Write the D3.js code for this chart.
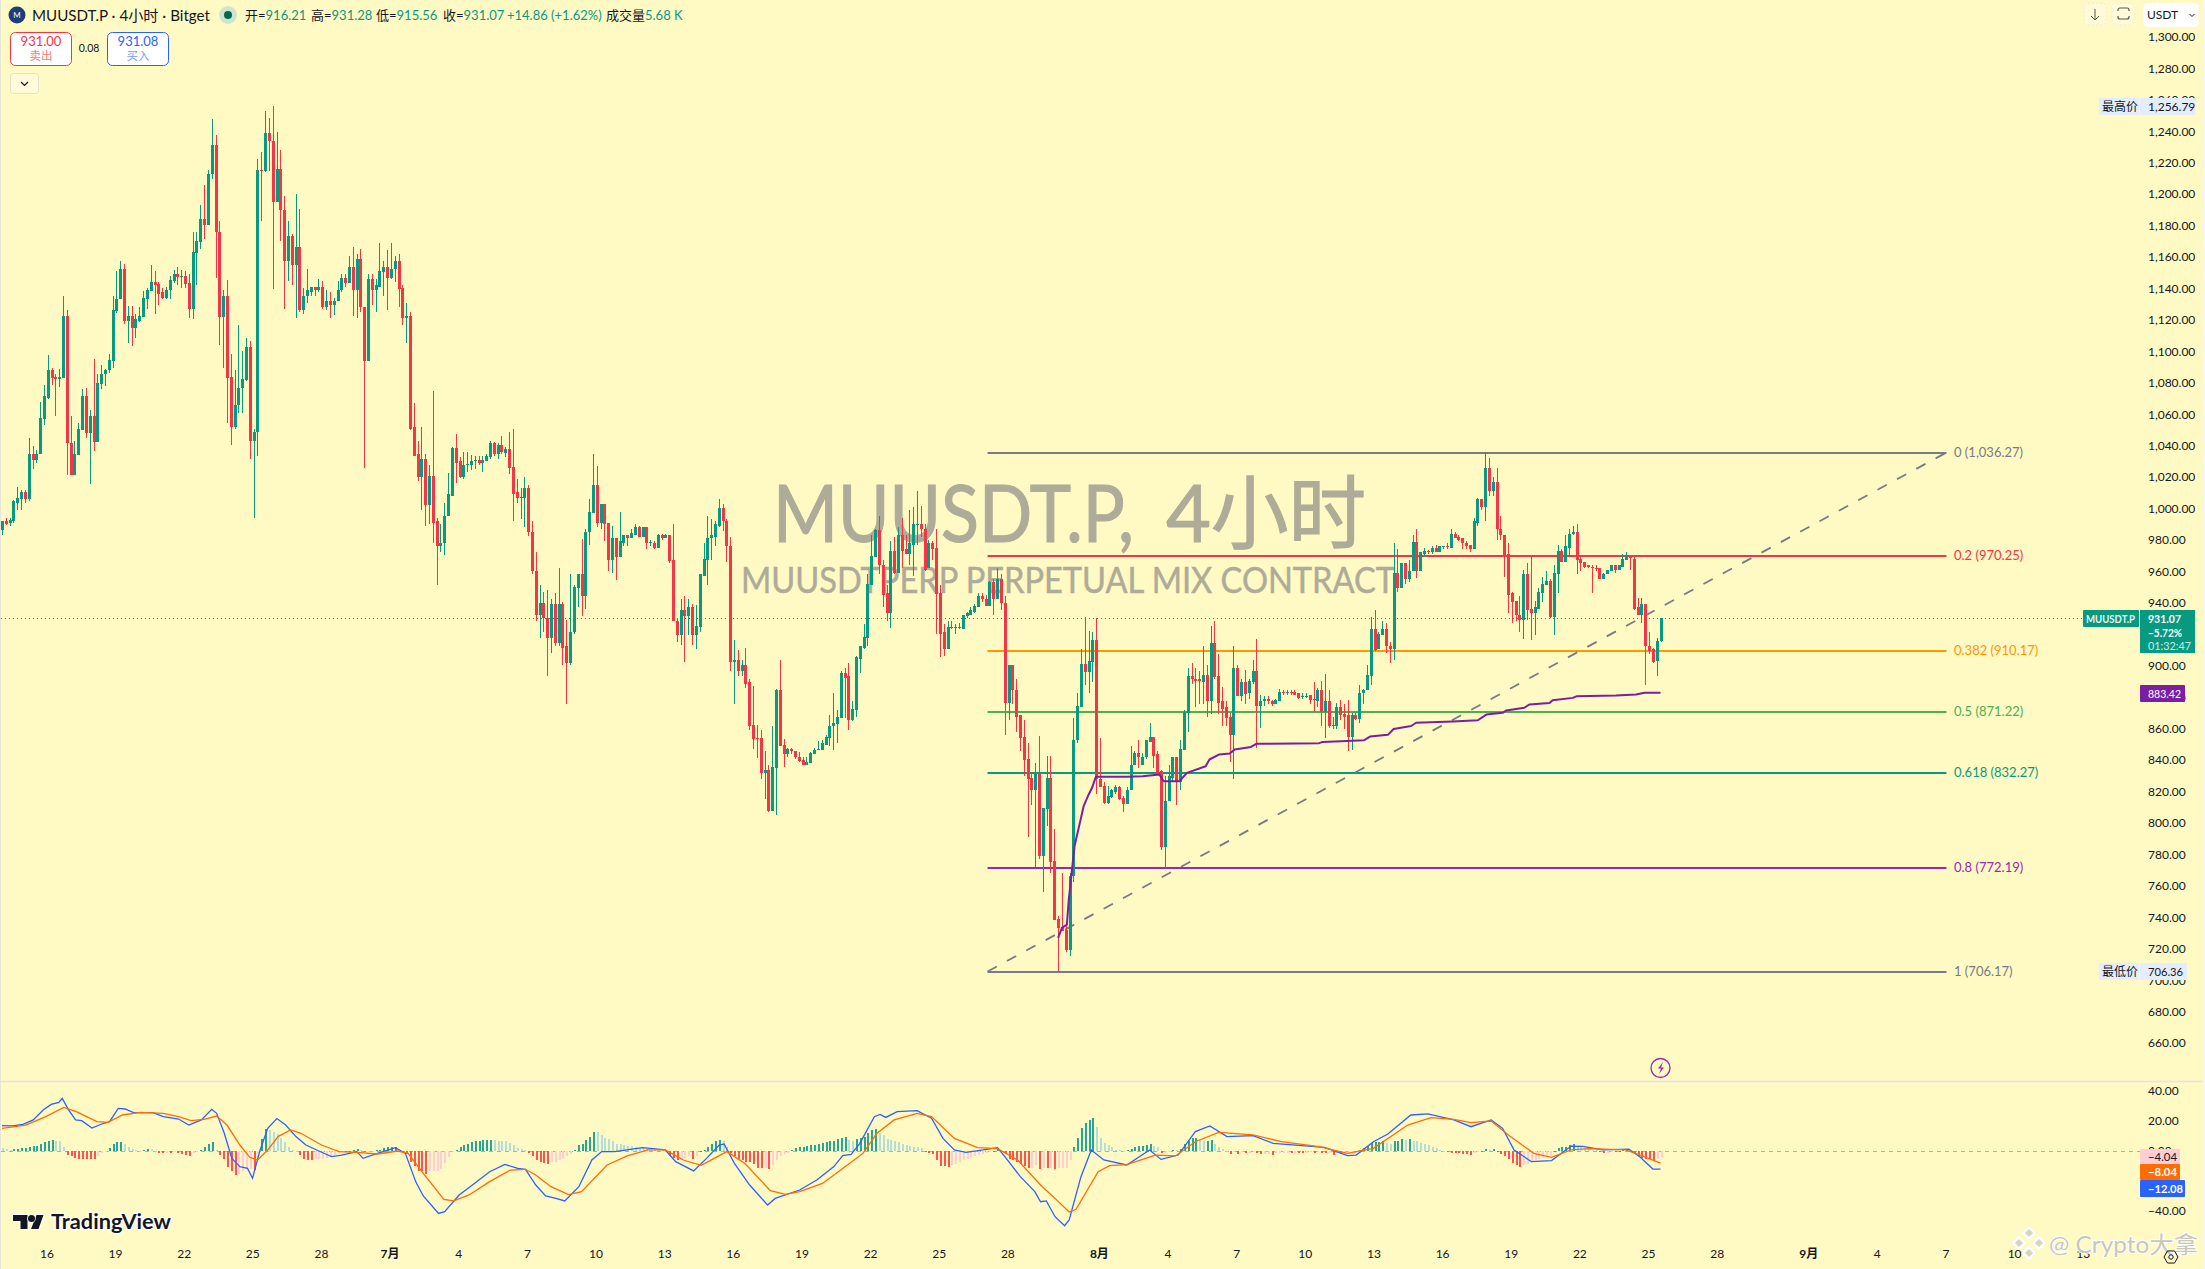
<!DOCTYPE html>
<html><head><meta charset="utf-8"><title>MUUSDT.P</title>
<script src="https://cdn.jsdelivr.net/npm/d3@7"></script>
<style>html,body{margin:0;padding:0;background:#FFF9C4;overflow:hidden}svg{display:block}text{font-family:Lato,"Noto Sans CJK SC",sans-serif}</style>
</head><body><div id="c"></div><script>
const opens=[986.7,992.7,991.4,992.4,1004.4,1007.0,1011.4,1007,1035.5,1031.4,
1035.3,1057.4,1071.1,1089,1084.6,1083.1,1083.9,1122.8,1042,1021.8,
1034.5,1050.4,1072.4,1048.5,1059.7,1042.8,1079.7,1086.2,1088.5,1094.2,
1126.2,1133.7,1153.2,1119.7,1122.8,1115.3,1120,1122.3,1134.2,1138.9,
1144.4,1143.3,1138.1,1134.8,1139.4,1145.1,1150.1,1147.7,1148.8,1143.8,
1127.7,1163,1170.1,1184.6,1180.7,1213.2,1231.6,1176.8,1122.3,1135.5,
1084.6,1052.7,1066.2,1077.1,1082.6,1103.6,1043.6,1049,1215.8,1215,
1239.2,1234.7,1195.3,1216.8,1190.8,1158.1,1174.2,1155.3,1167.2,1126.7,
1135.5,1138.6,1141.8,1139.9,1141.8,1129,1132.4,1130.3,1132.4,1139.4,
1147,1143.8,1154.5,1139.9,1159.2,1129,1094.2,1146.4,1139.9,1141.8,
1150.9,1154,1147.5,1152.7,1157.9,1141.2,1122,1122.8,1052.2,1035,
1021,1032.4,1002.6,1021.5,992.4,977.1,978.4,995.6,1008.8,1039.4,
1030.6,1021,1028.3,1028.5,1031.1,1031.6,1029.8,1031.1,1033.7,1042.5,
1035.5,1041.3,1036,1038.7,1027.2,1010.9,1007.6,1007.6,1013.4,986,
961.2,933.2,940.8,931.3,918,940.2,915.4,939.6,912.9,902.7,
921.8,950.4,958.7,945.3,985.4,998.1,1015.9,991.7,1003.2,991.7,
967.6,982.2,970.1,979,983.5,982.2,984.1,988.6,982.8,988.6,
978.4,979,975.8,984.1,982.2,984.1,967.6,929.4,919.9,936.4,
932,937.7,920.5,925.6,958,968.2,981.6,982.8,989.8,1000.7,
993,977.1,903.3,904.6,897,900.8,890,863.2,855,855,
832.7,834.6,808.5,835.9,884.9,850.5,844.2,847.9,846.7,842.9,
841,837.8,839,844.8,847.3,847.3,850.5,855,862,863.9,
867.7,896.3,893.8,866.4,872.8,905.2,912.2,918.6,952.3,970.1,
986.7,965,946.6,933.9,973.9,959.9,984.1,974.6,972,977.7,
990.5,991.1,987.9,962.5,978.4,975.8,946.6,921.8,911.6,925.6,
925,925.4,923.7,932.2,933.2,935.1,938.3,945.3,943.4,938.9,
953.6,943.4,955.5,940.8,877.2,900.8,885.5,869,855.6,841.6,
829.5,821.3,832.1,779.9,809.8,829.5,776.7,739.8,734.7,732.8,
720.1,766.6,853.1,874.7,902,896.9,903.3,916.7,828.3,824.4,
813.6,817.4,820.6,823.8,816.8,813,821.3,837.2,845.4,837.8,
842.3,852.4,855.6,844.2,834,785.6,814.3,829.5,842.3,827,
847.3,870.9,893.8,892.5,892.1,890.6,895,877.9,914.8,893.8,
877.9,874.1,868.3,856.9,899.5,881.1,890.6,883,890.6,897,
875.3,877.9,879.8,878.5,876,878.5,884.2,883.4,884.2,884.2,
883,881.1,881.3,882.3,879.8,878.5,885.5,871.5,877.9,862.6,
862.6,874.7,870.2,869,855.6,869,867,883,884.9,894.4,
923.7,911.6,920.5,924.3,913.5,911.6,959.9,950.4,966.3,955.5,
960.6,979.6,961.2,972,973.9,972.7,975.8,973.3,976.5,977.1,
975.8,984.7,982.8,981.6,979,977.7,974.6,991.7,1007,1001.3,
1026.7,1012.1,1017.8,987.9,984.1,971.4,946.6,942.1,933.2,930,
958.7,937,934.5,937,947.2,952.3,954.8,931.9,959.3,973.9,
966.9,975.8,984.3,985.4,968.8,966.9,964.4,963.7,963.1,962.5,
956.1,958.7,961.2,964.4,961.8,963.7,968.2,969.9,968.8,937.7,
933.2,939.6,913.5,911,903.9,916.21];
const highs=[993,994.5,994.5,1005.9,1014.5,1012.2,1012.7,1045.2,1040.7,1037.6,
1068.5,1078.9,1098.4,1090.3,1086.2,1089.6,1136.1,1127,1059.7,1043.3,
1054.8,1076.8,1077.6,1063.6,1095.5,1086.2,1091.9,1089.6,1099.2,1135.5,
1151.6,1157.9,1156.3,1129.6,1129.6,1124.6,1128.5,1138.9,1141.2,1155.3,
1151.4,1144.4,1141.2,1141.5,1148.8,1152.2,1154,1152.2,1151.4,1149.6,
1176.8,1176.6,1194,1206.4,1215.8,1248.2,1237.9,1183.3,1139.4,1145.7,
1099.2,1089,1117.6,1101,1108.8,1107.5,1050.9,1222.8,1227.2,1253.2,
1248.8,1256.79,1239.9,1228.5,1199.2,1183.3,1175,1200.5,1191.4,1141.2,
1152.7,1141.8,1141.8,1146.4,1145.1,1139.4,1138.1,1134.8,1145.1,1149.6,
1150.1,1161.5,1167.2,1162.8,1165.9,1129,1149.6,1149.6,1146.7,1169.3,
1157.9,1164.9,1169.8,1161.5,1162.8,1142.5,1131.6,1125.7,1068,1043.9,
1052.7,1035.5,1028.5,1075.5,994.5,990.6,1004.4,1023.1,1040,1048.3,
1033.7,1036.8,1036.8,1034.8,1034.2,1034.2,1034.2,1035.5,1043.3,1043.1,
1042.5,1046.7,1040,1049,1050.9,1019.2,1013.4,1020.6,1015.9,992.4,
973.3,951.7,947.8,948.5,942.8,947.2,963.1,941.5,930,959.3,
952.3,958.7,981,987.3,1006.4,1035,1027.4,1003.8,1003.8,991.7,
989.8,982.2,998.7,984.1,984.1,987.3,990.5,989.8,989.2,988.6,
980.9,979.7,984.7,984.7,984.7,984.1,990.5,930.7,942.8,944.7,
942.8,939.6,939,959.3,978.4,996.2,993.7,993,1006.4,1003.2,
993.7,982.8,917.3,910.9,904,912.2,892.5,888,863.2,860,
846.7,837.2,862.6,886.1,904,854.3,848.6,848.6,846.7,846,
842.3,842.9,846,848.6,853,853.7,856.9,869,883,872.2,
897,899.5,902.1,877.9,907.1,913.5,927.5,958.7,984.1,987.9,
996.2,968.2,952.3,979.7,982.8,989.2,994.3,984.1,1000,1001.9,
1012.1,1002.5,991.1,980.9,979.7,987.3,952.3,926.9,928.8,928.8,
927.5,928.1,932.6,935.1,938.3,940.2,946.6,947.2,945.9,954.8,
956.1,962.5,959.3,944.7,901.4,901.4,892.5,869.6,866.4,851.2,
833.3,839.1,856.2,810.4,843.5,843.5,796.5,741.7,769.1,736,
769.1,867.1,883.6,911.6,931.9,923,921.8,931.3,855,826.4,
824.4,822.5,825.1,824.4,818.1,823.2,849.3,846.1,853.7,845.4,
853.7,864.5,855.6,846.1,834.6,830.2,837.8,842.9,842.9,853.7,
872.8,899.5,902.1,898.9,897.4,912.9,900.8,926.2,929.4,908.4,
887.4,877.9,870.9,913.5,901.4,891.9,898.2,891.9,904.6,917.9,
882.3,881.7,881.1,879.1,879.8,886.1,884.9,884.9,885.5,884.9,
883,883,883,882.3,890.6,886.8,891.2,895.7,885.5,868.3,
877.2,879.1,876,879.1,870.9,871.5,888.7,886.1,900.8,931.9,
936.4,921.8,928.8,928.1,916,979,975.2,966.3,966.3,967.6,
983.5,987.9,973.3,975.8,974.1,976.5,977.7,977.1,977.1,978.4,
987.3,985.4,984.1,981.6,979.7,977.7,994.9,1007.6,1007,1036.3,
1032.5,1021,1026.1,996.2,984.1,979,947.8,942.1,944.7,961.8,
966.3,970.1,942.1,949.8,956.8,960.6,955.5,965,977.7,975.2,
983.5,987.9,989.8,990.5,970.7,966.9,965,964.4,964.4,962.5,
959.9,961.8,964.4,965,965,971.4,973.3,970.3,969.5,944,
944,939.6,922.4,912.2,918.6,931.28];
const lows=[983.6,990.4,989.8,991.4,999.4,1000,1003.9,1005.4,1025.9,1029.8,
1035.3,1053.5,1070.6,1078.9,1059.2,1077.9,1083.9,1021.8,1021.8,1021.8,
1034.5,1050.4,1045.2,1016.1,1037.1,1042.8,1076.8,1078.4,1086.7,1090.3,
1124.9,1133.7,1117.9,1105.9,1103.9,1108.8,1119.2,1122.3,1127.5,1138.9,
1124.4,1129.8,1134,1134.2,1133.7,1143.8,1142.5,1140.7,1141.2,1121.8,
1121.2,1142.5,1165.4,1171.9,1180.7,1210,1147.2,1104.4,1090.3,1054.8,
1041,1051.1,1061.3,1061.3,1081.5,1032.2,994.5,1034,1183.8,1214.5,
1215,1140,1195.3,1171.1,1127.7,1145.1,1142.5,1121.8,1125.7,1124.1,
1131.6,1135.5,1135.5,1138.6,1127.5,1127.2,1121.5,1123.9,1132.4,1138.6,
1141.8,1143.8,1122.8,1121.5,1125.9,1026.7,1094.2,1130.1,1125.9,1141.8,
1135.5,1126.7,1146.4,1144.4,1129,1117.1,1106.2,1050.4,1034.2,1018.4,
1000,989.3,991.1,978.4,952,972.7,970.9,995.6,1008.3,1016.6,
1020.2,1019.2,1023.9,1024.9,1025.9,1028.5,1024.1,1030.9,1032.4,1034,
1031.9,1035,1033.7,1022.3,993,1004.4,993.7,989.2,983,959.3,
928.8,918,921.8,893.8,909,913.5,912.9,901.4,876.6,900.8,
921.1,938.3,932,937,977.7,997.5,988.6,987.9,979.7,961.2,
959.9,954.9,970.1,976.5,977.1,982.2,984.1,982.8,982.8,974.6,
976.5,974.6,975.8,980.9,982.2,965.7,928.8,916,914.1,903.3,
920.5,914.1,911,921.8,958,951.7,968.2,976.5,989.2,986.6,
966.9,897.6,876,893.8,893.8,886.8,860,848,842.2,828.9,
816.2,807.3,808.5,806,849.9,836.5,842.9,844.8,841.6,839.7,
837.8,837.8,839,844.8,847.3,847.3,850.5,849.3,847.3,851.8,
867.7,867.7,860,865.2,868.3,896.3,911.6,913.5,951.7,969.5,
958.7,937.7,929.4,924.9,959.3,959.9,963.1,972,965,958,
977.7,982.8,961.2,962.5,968.2,921.1,905.9,907.1,911.6,923.7,
921.1,923.7,923.7,931.3,932.6,934.5,938.3,941.5,938.9,938.9,
933.2,942.8,935.8,856.3,866.4,876.6,858.8,846.1,830.2,791.4,
812.3,772.9,778,757,799,769.1,739.2,706.17,732.2,718.8,
716.3,763.4,851.2,874.7,888.1,883,890,819.3,823.2,813,
813,816.8,819.3,815.5,807.3,813,821.3,837.2,835.9,837.8,
841.6,852.4,835.9,832.1,783.7,772.3,814.3,827,812.3,821.9,
847.3,858.8,889.3,874.1,876.6,876.6,868.3,870.2,892.5,870.2,
862,862,839.7,828.3,881.1,878.5,876.6,879.8,889.3,848.6,
861.3,875.3,876.6,875.3,876,877.9,882.3,882.3,882.3,882.3,
879.8,879.8,880.4,876,871.5,874.7,862.6,855,861.3,860.7,
860.7,866.4,860.1,846.1,847.3,866.4,864.5,876,884.9,888.7,
910.3,911.6,920.5,909,902.1,904.2,947.4,950.4,952.9,953.6,
960.6,956.7,960.6,970.1,971.4,972,973.3,973.3,975.2,975.2,
975.8,982.2,979.7,975.2,975.2,973.3,974.6,989.8,999.4,993,
1008.9,1008.9,980.9,980.3,957.4,933.9,928.1,929.4,921.8,917.9,
930,916.7,920.5,937,941.5,952.3,931.3,920.5,947.2,966.9,
966.9,970.1,983.5,959.3,961.2,963.1,963.1,947.2,961.2,956.1,
956.1,958.7,961.2,959.9,961.8,963.7,967.6,961.8,936.4,933.2,
928.1,888.7,907.8,902.7,893.8,915.56];
const closes=[992.4,991.1,993.2,1005.4,1007.5,1011.4,1007,1035.5,1031.4,1035.5,
1057.9,1071.9,1089,1083.9,1083.1,1084.6,1122.8,1042,1021.8,1035,
1050.9,1072.4,1048.5,1059.7,1042.8,1080.2,1086.4,1089,1094.8,1126.7,
1134.2,1153.2,1119.7,1122.8,1115.3,1121,1122.8,1134.8,1139.4,1144.4,
1142.5,1137.3,1134.8,1139.9,1145.7,1150.1,1147.7,1148.8,1143.3,1127.7,
1163.6,1170.6,1184.6,1180.7,1213.7,1231.6,1176.6,1122.3,1135.5,1083.9,
1052.7,1066.7,1077.6,1083.3,1103.6,1043.6,1049.6,1215.8,1215,1239.2,
1234.5,1195.3,1216.8,1190.6,1158.1,1174.2,1155.3,1167.2,1126.7,1136.1,
1139.4,1141.8,1139.9,1141.8,1129,1132.4,1130.3,1132.9,1139.9,1147,
1143.8,1154.5,1139.9,1159.2,1128.8,1094.2,1146.4,1139.9,1142.5,1151.4,
1154,1147.5,1153.2,1157.9,1140.5,1122,1122.8,1051.2,1034.2,1021,
1032.4,1002.6,1021.5,991.7,977.1,978.7,996.1,1009.6,1039.4,1029.8,
1021,1028.5,1029,1031.1,1031.6,1029.8,1031.6,1034.2,1042.5,1035.5,
1041.3,1036.3,1038.7,1026.7,1010.1,1007.5,1008,1013.4,985.6,960.6,
933.2,940.8,930.7,918,940.2,915.4,939.6,912.2,902.7,922.4,
951,958.7,945.3,986,998.7,1015.9,991.7,1003.2,991.1,967.6,
982.2,970.1,979.7,983.5,982.2,984.8,988.6,982.8,988.6,978.4,
979.2,975.8,984.1,982.2,984.1,967,928.8,919.9,936.4,932,
937.7,920.5,926.2,958.7,968.8,982.2,983.5,990.5,1000.7,992.4,
976.5,903.3,904.6,897,900.8,889.3,862.6,854.3,854.3,832.7,
834.6,808.5,836.5,884.9,849.9,844.2,847.9,846.7,842.3,840.3,
837.8,839.7,845.4,847.3,847.8,851.2,855.6,862.6,864.5,868.3,
896.3,893.1,866.4,873.4,905.9,912.9,919.2,952.9,970.7,986.7,
964.4,945.9,933.9,973.9,959.9,984.1,973.9,972,978.4,991.1,
991.1,987.3,961.8,978.4,975.2,946,921.1,911.6,925.6,925,
925.6,924.7,932.6,933.9,935.8,938.9,945.3,942.8,938.9,953.6,
943.4,955.5,940.8,877.2,900.8,884.9,868.3,855,841,828.9,
821.3,832.1,779.9,810.4,829.5,776.1,739.2,734.1,732.2,720.1,
767.2,853.7,875.3,902,896.9,903.9,916.7,828.3,823.8,813.6,
818.1,821.3,823.8,816.2,813,821.9,837.8,845.4,842.3,842.9,
853.1,855.6,843.5,832.1,785.6,814.9,830.2,842.3,827,848,
871.5,893.8,891.9,891.2,891.2,895,877.9,914.8,893.2,877.2,
873.4,867.7,856.9,899.5,881.1,890.6,882.4,891.2,897,875.3,
878.5,879.8,877.9,876,879.1,884.2,883.4,883.8,883.4,882.3,
880.4,881.5,881.7,879.1,879.4,885.5,871.5,877.9,862,863.2,
874.7,869,868.3,855.6,869,867,883.6,885.5,895,923.7,
910.9,921.1,924.3,912.9,911.6,959.9,950.4,966.3,955.5,961.2,
979.6,961.2,972.7,973.9,973.3,975.8,973.3,976.5,976.9,976.7,
984.7,982.2,980.9,978.4,977.1,974.6,992.4,1007,1001.3,1026.7,
1012.1,1017.8,987.3,983.5,970.7,945.9,941.5,932.6,930,958.7,
936.4,934.5,937.7,947.8,952.9,954.8,931.9,959.9,973.9,966.9,
976.5,984.7,985.4,968.2,966.3,963.7,963.5,963.1,962.7,956.1,
959.3,961.8,964.4,961.8,964.4,968.8,969.5,969.2,937,933.2,
939.6,912.9,910.3,903.3,916.2,931.07];

const vwapIdx=[277,278,279.3,279.8,281.3,282.6,283.7,284.8,285.9,286.9,289.6,294.9,299.2,303.6,304.7,308.8,310.8,315.7,316.7,319.3,322,323.3,327.6,329,345.5,346.4,357.3,358.8,363.5,365,369.6,370.9,380.5,387.1,389.3,393.6,394.5,399.3,400.6,405.9,406.7,412,413.1,423.3,428.6,430.8,435];
const vwapVal=[727.5,733.9,736,751.9,785.8,799.6,811.3,817.6,823,830,830,830,830.4,831.4,827.2,827.2,832.5,836.7,841,844.2,844.8,847.3,849,851,851.4,852.2,853.3,855.6,856.7,860.4,862.3,864.4,865.2,866,869.6,870.7,872.2,873.9,876,877,878.7,880.2,881.3,881.7,882.3,883.4,883.42];

const fibRatios=["0","0.2","0.382","0.5","0.618","0.8","1"];
const fibPrices=[1036.27,970.25,910.17,871.22,832.27,772.19,706.17];
const fibColors=["#787B86","#F23645","#FF9800","#4CAF50","#089981","#9C27B0","#787B86"];
const priceTicks=d3.range(660,1301,20);
const macdTicks=[40,20,0,-40];

const macdIdx=[0,2.8,5.5,8.2,10.8,12.9,14.9,15.8,17.5,19.3,20.9,23.6,26.2,28.2,30.5,32.3,34.5,39.6,42.3,46.3,49,52.3,55,56.3,58.3,60.3,62.4,64.4,65.7,67.7,69.7,72.1,74.4,77.1,79.7,83.1,86.4,89.1,93.1,94.7,98.5,103.2,105.8,108.5,110.5,114.5,116.1,119.9,123.9,127.9,131.9,135.3,137.3,140,142.6,145.3,147.6,151.3,154.7,157.3,160.7,168,174,176.7,181.4,184.8,188.1,189.4,192.1,196.1,200.8,202.8,209.2,213.7,218.2,220.5,222.7,225,228.8,230.3,231.8,234.8,240,243.8,246.8,249.8,252.8,257.4,261.1,263.4,267.1,270.9,272.4,273.9,276.2,278.7,279.9,283,285.7,289,295,301,304,308.5,313,316.8,321.3,328.1,333.4,346.9,352.9,355.2,359.7,363.5,369.5,374,380.8,385.3,390.6,393.6,396.6,401.1,406.4,411.6,414.6,419.9,426.7,429.7,433,435];
const macdVal=[16.9,16.7,17.8,20.7,27.3,31.1,32.4,35.1,27.3,20.7,20.2,15.3,18,19.6,28.4,28,25.6,25.6,22.9,21.3,17.3,20.7,27.8,25.1,11.8,-4.9,-10.4,-11.6,-18.2,.7,15.1,21.6,17.3,9.6,4,0,-3.8,-2.7,-.4,-4.9,-1.6,2.2,-1.6,-20.4,-30,-41.6,-40.4,-29.3,-21.6,-13.8,-8.9,-11.6,-12.2,-22.7,-30,-31.6,-33.3,-23.8,-6,-.4,-.4,2.2,.7,-7.1,-13.3,-4.9,4,4.7,-8.2,-22.7,-36,-31.6,-26,-19.3,-10.4,-3.1,-2.2,5.1,22.9,24.4,22.4,26.2,26.9,21.8,8.4,.7,-.9,.7,2.2,-4.9,-17.1,-27.1,-33.8,-33.3,-43.8,-49.8,-46,-17.1,.7,-6,-9.3,.7,-5.6,-2.7,12.9,16.7,9.6,10.2,5.1,2.4,-3.1,-2.7,6.2,11.3,24,24.7,20.7,16.2,20.7,15.1,.7,-7.1,-6.4,3.3,3.1,.7,1.3,-4.2,-12,-12.08];
const signalIdx=[0,6.2,11.5,16.2,19.5,24.9,27.8,31.6,36.3,42.3,46.3,49.6,53,56.3,59,62.4,65,67,69.7,72.4,75.7,78.4,83.8,88.4,93.1,98.5,103.8,106.5,110.5,115.9,118.5,122.5,127.9,133.3,137.3,140,144,148.6,152,158.7,164,169.4,174,178.7,183.4,186.8,190.1,194.8,201.5,205.5,209.2,215.2,221.2,225.8,229.5,234,240,243.8,249.8,255.9,261.1,266.4,272.4,276.2,279.9,281.7,287.5,290.5,295,302.5,307.8,313,319.1,328.1,335.6,345.4,352.9,359.7,368.7,374.8,380.8,385.3,390.6,395.1,401.8,406.4,411.6,416.1,425.9,429.7,435];
const signalVal=[15.1,17.3,22.9,29.1,26.2,19.6,19.1,24,25.8,25.1,22.9,20.2,21.1,23.3,17.3,4,-4.2,-6,.7,9.6,14,11.8,4,-.4,-.9,-2,0,-1.6,-14.9,-32.2,-33.3,-29.3,-20.4,-12.7,-12.2,-16,-23.8,-29.1,-27.1,-9.3,-3.3,.7,.7,-6,-9.6,-4.9,-.4,-8.2,-26.4,-28.9,-27.1,-21.6,-10.4,-1.6,11.8,20.7,25.1,22.9,8.4,2.2,1.6,-6,-22.7,-31.6,-40.7,-38.9,-13.8,-9.8,-9.1,-2.7,-3.3,6.2,12.4,10.7,6.2,2.9,-1.6,1.8,17.3,22.2,21.1,18.9,20,10.7,-1.6,-4.2,.7,1.6,.7,-2.7,-8.04];
const histVal=[2,1.2,.8,1.4,1.6,1.7,2,3,3.2,3.5,
4.5,6,7,7.1,6.8,6.7,3,-2.5,-3.6,-4.8,
-5,-5.2,-5.4,-5.5,-5.6,-3,-1.5,-.5,2,4.5,
6,6.3,4.5,3,1.5,.6,.3,1,1.2,1.1,
.3,-1.2,-1.5,-1,-1.6,-.8,-1.5,-1.8,-2.8,-3.2,
-1.5,-.6,1,2.5,5,5.8,.5,-2.5,-5,-10.5,
-13.5,-16,-15,-13.5,-12,-12,-12.5,-6,8,14.5,
14,12.5,11.5,9,6,3,1,.3,-2.5,-5,
-5.8,-6,-5.5,-5.5,-5,-4.5,-3.5,-2.5,-1.3,-.5,
.2,.3,.6,1.2,.4,-.5,-.5,-.3,.4,1,
2,2.5,2.8,3,1,-.5,-2,-7,-10,-13,
-13.5,-15,-13.5,-13.3,-13,-12,-8,-4,-.8,1,
2.5,4,5,6,6.5,7,7.2,7.3,7.6,7.2,
7,6.8,6.5,5.5,4,1.8,1.5,.8,-1,-3,
-6,-7,-8,-8.5,-7.5,-7,-6,-5,-3.5,-2,
1,4,4.5,7.5,9.5,13,12.5,11,9,8,
6.5,5,4.5,4,3.5,3.3,3,2.3,1.8,1.3,
1,.7,.6,.4,.2,-3,-4.5,-6,-6,-4.5,
-3.5,-5.5,-3,.3,1,3,5,6.5,7.5,7,
3,-1,-3.5,-5,-6,-7,-7.5,-8.5,-11,-11.5,
-11.5,-11.7,-9,-6,-3.5,-2,-1,1,2,2.5,
3,3.5,4,4.3,5,5.5,6,6.5,7,8,
9,9.2,7.5,7,8,9,9.5,12,14,15,
12,11,8,7.5,6.5,6,5,4,3.5,3,
2.5,2,-.7,-1.5,-2,-6,-10,-10.3,-10.4,-9,
-8.5,-7.5,-6,-5,-4,-3,-2.5,-2,-1.3,-.8,
.3,1.5,.2,-2,-5,-6,-7,-8.5,-10,-11.5,
-11,-9.5,-12.3,-11,-11.5,-11,-11.7,-11.5,-11,-11,
-6,2.5,9,15.5,19,20.5,21.8,15.8,8.5,5.5,
4,2.5,1,.5,.3,1,1.5,3,3.5,3.6,
4,4.5,3.5,2.5,-1.5,-1.5,-.3,1,.8,1.5,
5,7,8.5,8.6,7.8,6.5,6.5,7.3,4.5,3,
1.5,.2,-2,-.8,-2,-.8,-1.3,-1,-.7,-1.5,
-2,-2,-1.8,-2.7,-1.5,-1.3,-1.2,-1,-1.6,-1,
-1.2,-1.5,-1.2,-.8,-1.5,-.8,-1,-1.6,-1.2,-2.5,
-1.3,-2,-1.8,-1.5,-1.2,-1,.5,2,3.3,5.5,
6,6.3,6.5,5.5,5,6.5,7,8,7.5,7.8,
7,6.5,5.5,4.5,4,3,2,.8,.3,-.7,
-1,-1.2,-1.5,-1.8,-2,-2.5,-1,-.3,.3,1.2,
.8,1.5,-.3,-2,-3.5,-5.5,-8,-9.5,-10.5,-9,
-8.5,-7,-6,-5,-4.5,-3.5,-3,.3,2,2.5,
3,4.3,5,3.5,3,2,1.5,1,.5,-.5,
-1.3,-1,-.8,.3,.3,.4,.5,-.5,-2,-3.5,
-4.5,-5,-5.5,-6.5,-5,-4.04];

const timeTickDates=["2025-06-16","2025-06-19","2025-06-22","2025-06-25","2025-06-28","2025-07-01","2025-07-04","2025-07-07","2025-07-10","2025-07-13","2025-07-16","2025-07-19","2025-07-22","2025-07-25","2025-07-28","2025-08-01","2025-08-04","2025-08-07","2025-08-10","2025-08-13","2025-08-16","2025-08-19","2025-08-22","2025-08-25","2025-08-28","2025-09-01","2025-09-04","2025-09-07","2025-09-10","2025-09-13"];

const W=2205,H=1269,BG="#FFF9C4",UP="#089981",DN="#F23645";
const svg=d3.select("#c").append("svg").attr("width",W).attr("height",H).attr("viewBox",`0 0 ${W} ${H}`);
svg.append("rect").attr("width",W).attr("height",H).attr("fill",BG);
svg.append("rect").attr("x",0).attr("width",1).attr("height",H).attr("fill","#e6e6d8");
svg.append("rect").attr("x",2203).attr("width",2).attr("height",H).attr("fill","#f4f6fb");

const x=d3.scaleLinear().domain([0,435]).range([2,1660.5]);
const y=d3.scaleLinear().domain([1036.27,706.17]).range([452.5,971.5]);
const my=d3.scaleLinear().domain([40,-40]).range([1091,1211]);
const parse=d3.utcParse("%Y-%m-%d");
const tx=d3.scaleUtc().domain([parse("2025-06-16"),parse("2025-08-25")]).range([46.4,1648]);
const fmt=d3.format(",.2f");

// watermark
const wm="#AFAB99";
const wmText=(tx0,ty,fs,len,sw,t)=>svg.append("text").attr("x",tx0).attr("y",ty).attr("font-size",fs).attr("fill",wm).attr("stroke",wm).attr("stroke-width",sw).attr("textLength",len).attr("lengthAdjust","spacingAndGlyphs").text(t);
wmText(773,542,80,361,1.2,"MUUSDT.P,");
wmText(1166,542,80,200,1.2,"4小时");
wmText(741,593,36,654,.5,"MUUSDTPERP PERPETUAL MIX CONTRACT");

// separator + price line
svg.append("line").attr("x1",1).attr("x2",2203).attr("y1",1081.5).attr("y2",1081.5).attr("stroke","#e0e3eb").attr("stroke-width",1.5);
svg.append("line").attr("x1",1).attr("x2",2083).attr("y1",Math.round(y(931.07))+.5).attr("y2",Math.round(y(931.07))+.5).attr("stroke",UP).attr("stroke-width",1).attr("stroke-dasharray","1 3");

// fib
const fibX0=x(258.5),fibX1=x(510);
const fib=svg.append("g");
fib.selectAll("line").data(fibPrices).join("line").attr("x1",fibX0).attr("x2",fibX1).attr("y1",d=>Math.round(y(d))).attr("y2",d=>Math.round(y(d))).attr("stroke",(d,i)=>fibColors[i]).attr("stroke-width",2);
fib.selectAll("text").data(fibPrices).join("text").attr("x",1954).attr("y",d=>y(d)+4).attr("font-size",13).attr("fill",(d,i)=>fibColors[i]).text((d,i)=>`${fibRatios[i]} (${fmt(d)})`);
svg.append("line").attr("x1",fibX0).attr("y1",y(706.17)).attr("x2",fibX1).attr("y2",y(1036.27)).attr("stroke","#787B86").attr("stroke-width",1.8).attr("stroke-dasharray","10.5 11.5");

// candles
const idx=d3.range(opens.length);
const cg=svg.append("g").attr("shape-rendering","crispEdges");
const colr=i=>closes[i]>=opens[i]?UP:DN;
cg.selectAll("rect.w").data(idx).join("rect").attr("class","w").attr("x",i=>Math.round(x(i))).attr("width",1).attr("y",i=>y(highs[i])).attr("height",i=>Math.max(1,y(lows[i])-y(highs[i]))).attr("fill",colr);
cg.selectAll("rect.b").data(idx).join("rect").attr("class","b").attr("x",i=>Math.round(x(i))-1).attr("width",3).attr("y",i=>y(Math.max(opens[i],closes[i]))).attr("height",i=>Math.max(1,Math.abs(y(opens[i])-y(closes[i])))).attr("fill",colr);

// vwap
const vw=d3.line().x((d,i)=>x(vwapIdx[i])).y(d=>y(d));
svg.append("path").attr("d",vw(vwapVal)).attr("fill","none").attr("stroke","#7B1FA2").attr("stroke-width",2).attr("stroke-linejoin","round");

// MACD
svg.append("line").attr("x1",1).attr("x2",2140).attr("y1",Math.round(my(0))+.5).attr("y2",Math.round(my(0))+.5).attr("stroke","#B2B0A0").attr("stroke-width",1).attr("stroke-dasharray","4 4");
const histColor=i=>{const v=histVal[i],p=i?histVal[i-1]:histVal[0]+.1;return v>=0?(v>=p?"#26A69A":"#B2DFDB"):(v<p?"#FF5252":"#FFCDD2");};
svg.append("g").attr("shape-rendering","crispEdges").selectAll("rect").data(d3.range(histVal.length)).join("rect")
 .attr("x",i=>Math.round(x(i))).attr("width",2).attr("y",i=>Math.min(my(0),my(histVal[i]))).attr("height",i=>Math.max(1,Math.abs(my(histVal[i])-my(0)))).attr("fill",histColor);
const ml=(ix)=>d3.line().x((d,i)=>x(ix[i])).y(d=>my(d));
svg.append("path").attr("d",ml(macdIdx)(macdVal)).attr("fill","none").attr("stroke","#2962FF").attr("stroke-width",1.3);
svg.append("path").attr("d",ml(signalIdx)(signalVal)).attr("fill","none").attr("stroke","#FF6D00").attr("stroke-width",1.3);

// price axis
const axisCol="#131722";
const yAxis=d3.axisRight(y).tickValues(priceTicks).tickSize(0).tickPadding(0).tickFormat(fmt);
svg.append("g").attr("transform","translate(2148,-1)").call(yAxis).call(g=>g.select(".domain").remove()).selectAll("text").attr("font-size",12).attr("font-family",null).attr("fill",axisCol);
const mAxis=d3.axisRight(my).tickValues(macdTicks).tickSize(0).tickPadding(0).tickFormat(d=>d3.format(".2f")(d).replace("-","−"));
svg.append("g").attr("transform","translate(2148,-.7)").call(mAxis).call(g=>g.select(".domain").remove()).selectAll("text").attr("font-size",12).attr("font-family",null).attr("fill",axisCol);

// time axis
const tAxis=d3.axisBottom(tx).tickValues(timeTickDates.map(parse)).tickSize(0).tickPadding(0).tickFormat(d=>d.getUTCDate()===1?`${d.getUTCMonth()+1}月`:`${d.getUTCDate()}`);
svg.append("g").attr("transform","translate(0,1249.5)").call(tAxis).call(g=>g.select(".domain").remove()).selectAll("text").attr("font-size",12).attr("font-family",null).attr("fill",axisCol).attr("font-weight",d=>d.getUTCDate()===1?700:400);

// label helper
function tag(x0,y0,w,h,fill,txt,col,opt={}){
 svg.append("rect").attr("x",x0).attr("y",y0).attr("width",w).attr("height",h).attr("fill",fill).attr("rx",opt.rx||1);
 if(txt){const t=svg.append("text").attr("x",opt.tx||x0+8).attr("y",y0+h/2+4).attr("font-size",opt.fs||12).attr("fill",col).attr("font-weight",opt.fw||400).text(txt);
  if(opt.len)t.attr("textLength",opt.len).attr("lengthAdjust","spacingAndGlyphs");}
}
tag(2099,98,40,17,"#E3EDFB","最高价",axisCol,{tx:2102,fs:12});
tag(2140,98,55,17,"#E3EDFB",fmt(1256.79),axisCol);
tag(2099,963,40,17,"#E3EDFB","最低价",axisCol,{tx:2102,fs:12});
tag(2140,963,47,17,"#E3EDFB","706.36",axisCol,{len:35});
tag(2083,610,56,17,UP,"MUUSDT.P","#E8F5F2",{tx:2086,fs:11,fw:700,len:49});
svg.append("rect").attr("x",2140).attr("y",610).attr("width",55).attr("height",43).attr("fill",UP);
[["931.07",623,"#fff",33],["−5.72%",637,"#fff",34],["01:32:47",650,"#CDEBE4",43]].forEach(t=>svg.append("text").attr("x",2148).attr("y",t[1]).attr("font-size",12).attr("font-weight",t[0]=="01:32:47"?400:700).attr("fill",t[2]).attr("textLength",t[3]).attr("lengthAdjust","spacingAndGlyphs").text(t[0]));
tag(2140,685,45,17,"#7B1FA2","883.42","#fff",{len:33});
tag(2140,1149,40,15,"#FFCDD2","−4.04",axisCol,{len:29});
tag(2140,1164,40,16,"#FF6D00","−8.04","#fff",{fw:700,len:29});
tag(2140,1180,45,17,"#2962FF","−12.08","#fff",{fw:700,len:35});

// header
svg.append("circle").attr("cx",17).attr("cy",15).attr("r",8.5).attr("fill","#1C3F78");
svg.append("text").attr("x",17).attr("y",18).attr("text-anchor","middle").attr("font-size",8).attr("fill","#fff").text("M");
svg.append("text").attr("x",32).attr("y",20.5).attr("font-size",15).attr("fill",axisCol).attr("textLength",178).attr("lengthAdjust","spacingAndGlyphs").text("MUUSDT.P · 4小时 · Bitget");
svg.append("circle").attr("cx",228).attr("cy",15).attr("r",9).attr("fill","#CFE5CD");
svg.append("circle").attr("cx",228).attr("cy",15).attr("r",4).attr("fill","#056656");
const ohlc=[[245,"开=","916.21"],[311,"高=","931.28"],[376,"低=","915.56"],[443,"收=","931.07"]];
ohlc.forEach(o=>{const t=svg.append("text").attr("x",o[0]).attr("y",20).attr("font-size",13);t.append("tspan").attr("fill",axisCol).text(o[1]);t.append("tspan").attr("fill",UP).text(o[2]);});
svg.append("text").attr("x",507).attr("y",20).attr("font-size",13).attr("fill",UP).text("+14.86 (+1.62%)");
const vt=svg.append("text").attr("x",606).attr("y",20).attr("font-size",13);vt.append("tspan").attr("fill",axisCol).text("成交量");vt.append("tspan").attr("fill",UP).text("5.68 K");
function btn(x0,w,col,a,b,bcol){
 svg.append("rect").attr("x",x0).attr("y",32.5).attr("width",w).attr("height",33).attr("rx",5).attr("fill","#fff").attr("stroke",col);
 svg.append("text").attr("x",x0+w/2).attr("y",46).attr("text-anchor","middle").attr("font-size",13).attr("fill",col).text(a);
 svg.append("text").attr("x",x0+w/2).attr("y",60).attr("text-anchor","middle").attr("font-size",11.5).attr("fill",bcol).text(b);
}
btn(10.5,61,DN,"931.00","卖出","#F77C80");
btn(107.5,61,"#2962FF","931.08","买入","#7A9BF5");
svg.append("text").attr("x",89).attr("y",52).attr("text-anchor","middle").attr("font-size",10.5).attr("fill",axisCol).text("0.08");
svg.append("rect").attr("x",10.5).attr("y",73.5).attr("width",28).attr("height",20).attr("rx",3).attr("fill","#FFFBD8").attr("stroke","#e3e2cf");
svg.append("path").attr("d","M21 82l3.5 3.5L28 82").attr("fill","none").attr("stroke",axisCol).attr("stroke-width",1.2);

// top right buttons
[[2084],[2112]].forEach(b=>svg.append("rect").attr("x",b[0]).attr("y",3).attr("width",22).attr("height",22).attr("rx",4).attr("fill","#FFFBD8").attr("stroke","#eeeadb").attr("stroke-dasharray","2 2"));
svg.append("path").attr("d","M2095 9v11M2091 16l4 4 4-4").attr("fill","none").attr("stroke","#555").attr("stroke-width",1);
svg.append("path").attr("d","M2118 11v-1a2 2 0 0 1 2-2h7a2 2 0 0 1 2 2v1M2118 16v1a2 2 0 0 0 2 2h7a2 2 0 0 0 2-2v-1").attr("fill","none").attr("stroke","#555").attr("stroke-width",1.2);
svg.append("rect").attr("x",2143.5).attr("y",3).attr("width",55).attr("height",24).attr("rx",4).attr("fill","#fff");
svg.append("text").attr("x",2147).attr("y",19).attr("font-size",12).attr("fill",axisCol).text("USDT");
svg.append("path").attr("d","M2189.5 14l2.5 2.5 2.5-2.5").attr("fill","none").attr("stroke",axisCol);

// lightning marker
svg.append("circle").attr("cx",1660.5).attr("cy",1068).attr("r",9.5).attr("fill",BG).attr("stroke","#9C27B0").attr("stroke-width",1.3);
svg.append("path").attr("d","M1663 1062l-5 6.5h3l-2 5.5 5-6.5h-3z").attr("fill","#9C27B0");

// TradingView logo
const tv=svg.append("g");
const tvPaths="M13 1215h14.5v14h-7v-8H13zM36.5 1215h7l-5 14h-7.5z";
tv.append("path").attr("d",tvPaths).attr("fill","#131722").attr("stroke","#fff").attr("stroke-width",2).attr("paint-order","stroke");
tv.append("circle").attr("cx",31.5).attr("cy",1218.5).attr("r",3.5).attr("fill","#131722").attr("stroke","#fff").attr("stroke-width",1.5).attr("paint-order","stroke");
tv.append("text").attr("x",51).attr("y",1228.5).attr("font-size",21).attr("font-weight",700).attr("fill","#131722").attr("stroke","#fff").attr("stroke-width",2.5).attr("paint-order","stroke").attr("textLength",120).attr("lengthAdjust","spacingAndGlyphs").attr("font-family","Inter,Roboto,sans-serif").text("TradingView");

// bottom-right mark
const wmk=svg.append("g");
[[0,-10],[-10,0],[10,0],[0,10]].forEach(p=>wmk.append("rect").attr("x",2029+p[0]-4).attr("y",1243+p[1]-4).attr("width",8).attr("height",8).attr("transform",`rotate(45 ${2029+p[0]} ${1243+p[1]})`).attr("fill","#d6d4c3").attr("stroke","#fff").attr("stroke-width",2.2));
wmk.append("text").attr("x",2049).attr("y",1253).attr("font-size",23).attr("fill","#c9c7b6").attr("stroke","#fff").attr("stroke-width",2).attr("paint-order","stroke").attr("textLength",149).attr("lengthAdjust","spacingAndGlyphs").text("@ Crypto大拿");
svg.append("path").attr("d",d3.range(6).map(k=>`${k?"L":"M"}${2171+7*Math.cos(k*Math.PI/3)} ${1257+7*Math.sin(k*Math.PI/3)}`).join("")+"Z").attr("fill","none").attr("stroke","#131722");
svg.append("circle").attr("cx",2171).attr("cy",1257).attr("r",2.2).attr("fill","none").attr("stroke","#131722");
</script></body></html>
